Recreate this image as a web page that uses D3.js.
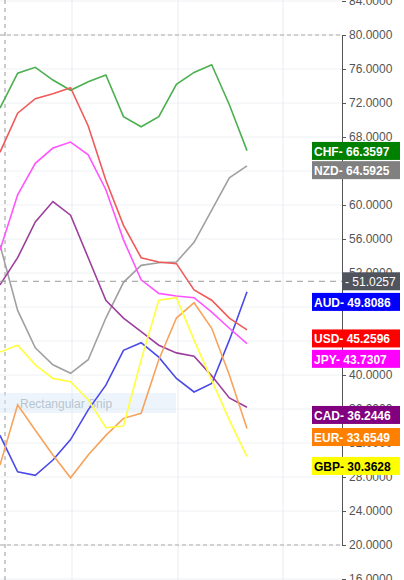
<!DOCTYPE html>
<html><head><meta charset="utf-8">
<script src="https://cdn.jsdelivr.net/npm/d3@7"></script>
<style>body{margin:0;background:#fff}svg{display:block;font-family:"Liberation Sans",Arial,sans-serif}</style>
</head><body><svg id="c" width="404" height="580"></svg>
<script>
const steps = d3.range(15);
const seriesNames = ["CHF", "NZD", "AUD", "USD", "JPY", "CAD", "EUR", "GBP"];
const seriesColors = ["#4caf50", "#a0a0a0", "#4a4ae8", "#f05a5a", "#ff55ff", "#9c3f9c", "#f7a35c", "#ffff40"];
const labelColors = ["#008000", "#808080", "#0000ff", "#ff0000", "#ff00ff", "#800080", "#ff8000", "#ffff00"];
const lastValues = ["66.3597", "64.5925", "49.8086", "45.2596", "43.7307", "36.2446", "33.6549", "30.3628"];
const labelY = [66.3597, 64.1, 48.6, 44.3, 41.9, 35.3, 32.7, 29.3];
const CHF = [71.4, 75.5, 76.2, 74.7, 73.5, 74.5, 75.3, 70.4, 69.2, 70.4, 74.2, 75.6, 76.5, 71.8, 66.4];
const NZD = [55.3, 47.6, 43.2, 41.2, 40.2, 41.8, 46.7, 50.9, 52.9, 53.2, 53.3, 55.6, 59.4, 63.2, 64.6];
const AUD = [32.9, 28.6, 28.2, 30.0, 32.4, 35.9, 38.8, 42.9, 43.8, 42.1, 39.6, 38.0, 39.0, 44.1, 49.8];
const USD = [66.2, 70.8, 72.5, 73.1, 73.8, 69.3, 62.9, 57.6, 53.8, 53.3, 53.1, 50.0, 48.8, 46.7, 45.3];
const JPY = [54.7, 61.2, 64.9, 66.7, 67.4, 65.9, 61.8, 55.9, 51.2, 49.6, 49.3, 49.1, 47.4, 45.5, 43.7];
const CAD = [50.6, 53.8, 58.0, 60.4, 58.8, 53.8, 48.8, 46.7, 45.1, 43.5, 42.6, 42.2, 39.9, 37.3, 36.2];
const EUR = [29.4, 36.5, 33.5, 30.6, 27.9, 30.6, 32.9, 34.9, 35.5, 41.8, 46.7, 48.5, 45.5, 40.0, 33.7];
const GBP = [42.7, 43.5, 41.2, 39.6, 39.2, 37.1, 33.8, 34.0, 41.8, 48.8, 49.1, 44.1, 39.4, 34.7, 30.4];
const seriesValues = [CHF, NZD, AUD, USD, JPY, CAD, EUR, GBP];
const yTicks = d3.range(16, 85, 4);
const crossValue = 51.0257;

const svg = d3.select("#c");
const axisX = 342;
const x = d3.scaleLinear().domain([0, 14]).range([0, 247]);
const y = d3.scaleLinear().domain([20, 80]).range([545, 35]);

// grid
svg.append("g").selectAll("line").data(yTicks).join("line")
  .attr("x1", 0).attr("x2", axisX).attr("y1", d => y(d)).attr("y2", d => y(d))
  .attr("stroke", "#eef0f3");
svg.append("g").selectAll("line").data([72, 178, 283]).join("line")
  .attr("x1", d => d).attr("x2", d => d).attr("y1", 0).attr("y2", 580)
  .attr("stroke", "#e8ebef");
svg.append("g").selectAll("line").data([20, 80]).join("line")
  .attr("x1", 0).attr("x2", axisX).attr("y1", d => y(d)).attr("y2", d => y(d))
  .attr("stroke", "#aaa").attr("stroke-dasharray", "4,3");
svg.append("line").attr("x1", 5).attr("x2", 5).attr("y1", 0).attr("y2", 580)
  .attr("stroke", "#999").attr("stroke-dasharray", "4,4");

// snip overlay
svg.append("rect").attr("x", 0).attr("y", 393).attr("width", 176).attr("height", 20)
  .attr("fill", "#dbeaf8").attr("opacity", 0.5);
svg.append("text").attr("x", 20).attr("y", 408).attr("font-size", 12)
  .attr("fill", "#b8c4d0").text("Rectangular Snip");

const line = d3.line().x((d, i) => x(steps[i])).y(d => y(d));
svg.append("g").selectAll("path").data(seriesValues).join("path")
  .attr("d", line).attr("fill", "none").attr("stroke-width", 1.6)
  .attr("stroke", (d, i) => seriesColors[i]);

// crosshair
svg.append("line").attr("x1", 0).attr("x2", axisX).attr("y1", y(crossValue)).attr("y2", y(crossValue))
  .attr("stroke", "#999").attr("stroke-dasharray", "6,5");

// axis
const axis = svg.append("g").attr("transform", `translate(${axisX},0)`)
  .call(d3.axisRight(y).tickValues(yTicks).tickSize(4).tickFormat(d3.format(".4f")));
axis.select(".domain").attr("stroke", "#555");
axis.selectAll(".tick line").attr("stroke", "#555");
axis.selectAll("text").attr("font-size", 12).attr("fill", "#555");

// labels
const lab = svg.append("g").selectAll("g").data(seriesNames).join("g")
  .attr("transform", (d, i) => `translate(0,${y(labelY[i])})`);
lab.append("rect").attr("x", 312).attr("y", -9).attr("width", 88).attr("height", 18)
  .attr("fill", (d, i) => labelColors[i]);
lab.append("text").attr("x", 314).attr("y", 5).attr("font-size", 12).attr("font-weight", "bold")
  .attr("fill", (d, i) => i === 7 ? "#000" : "#fff")
  .text((d, i) => `${d}- ${lastValues[i]}`);
const cg = svg.append("g").attr("transform", `translate(0,${y(crossValue)})`);
cg.append("rect").attr("x", axisX).attr("y", -9).attr("width", 58).attr("height", 18).attr("fill", "#50545c");
cg.append("text").attr("x", axisX + 3).attr("y", 5).attr("font-size", 12).attr("fill", "#fff").text("- 51.0257");
</script></body></html>
